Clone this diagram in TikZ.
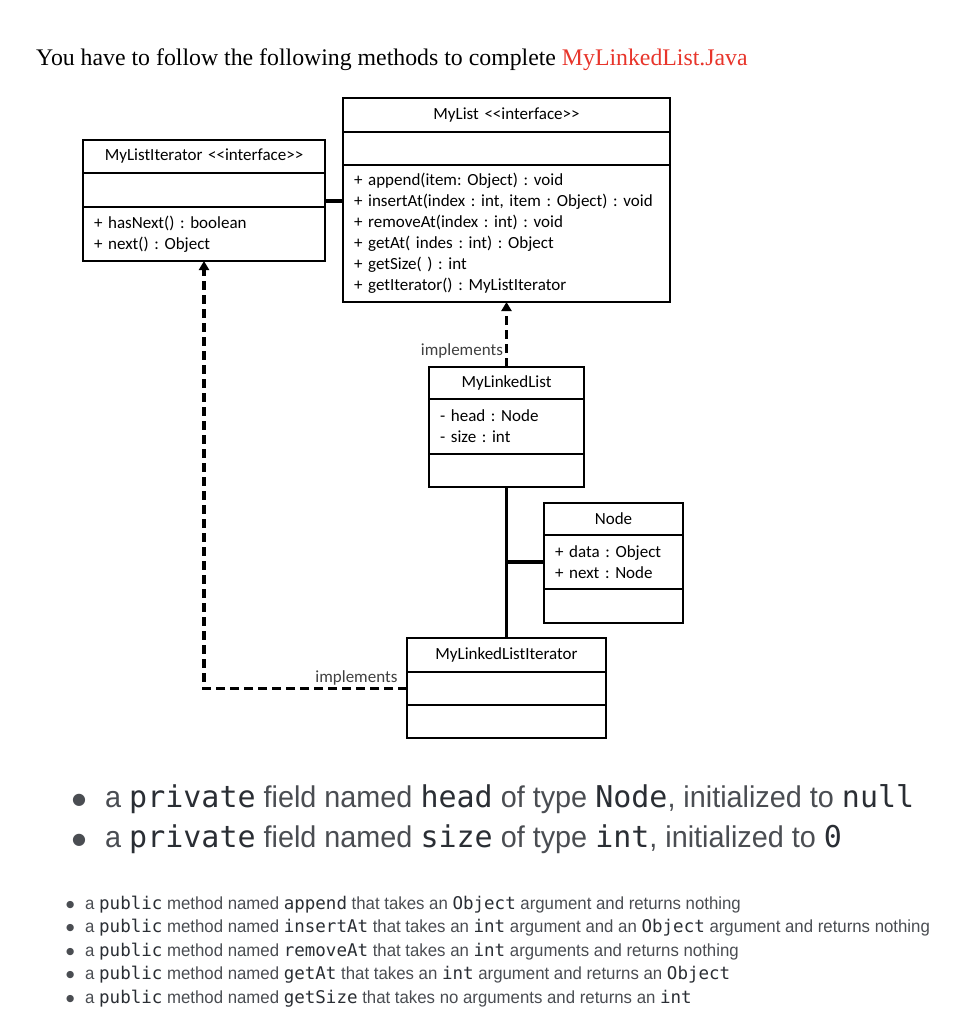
\documentclass[tikz,border=0pt]{standalone}
\usepackage{fontspec}
\usepackage{xcolor}
\usetikzlibrary{arrows.meta,positioning,calc}
\newfontfamily\fontetitulo{Liberation Serif}
\newfontfamily\fonteuml{Carlito}
\newfontfamily\fontetexto[FakeStretch=0.96]{Liberation Sans}
\newfontfamily\fontecodigo{DejaVu Sans Mono}
\newfontfamily\fontesimbolo{DejaVu Sans}
\definecolor{vermelho}{HTML}{E8352B}
\definecolor{cinzatexto}{HTML}{4A4D52}
\definecolor{cinzacodigo}{HTML}{2A2E34}
\newcommand{\cod}[1]{{\fontecodigo\color{cinzacodigo}#1}}
\newcommand{\estereo}[1]{<\kern0pt<#1>\kern0pt>}
\frenchspacing
\tikzset{
    compart/.style={
        draw,
        line width=1.1pt,
        outer sep=0pt,
        inner xsep=11pt,
        inner ysep=0pt,
        font=\fonteuml\fontsize{17}{21}\selectfont
    },
    titulo/.style={compart, align=center},
    lista/.style={compart, align=left},
    realiza/.style={-{Triangle[length=9pt,width=10pt]}, line width=3.2pt, dash pattern=on 9pt off 5pt},
    associa/.style={line width=3.4pt},
    rotulo/.style={font=\fonteuml\fontsize{17}{21}\selectfont, text=black!75, inner sep=2pt},
    topicoA/.style={anchor=base west, inner sep=0pt, text height=22pt, text depth=5pt, text=cinzatexto, font=\fontetexto\fontsize{30}{36}\selectfont},
    topicoB/.style={anchor=base west, inner sep=0pt, text=cinzatexto, font=\fontetexto\fontsize{17.5}{21}\selectfont}
}
\newcommand{\marcaA}{\makebox[35pt][l]{\hspace{2pt}\raisebox{3pt}{\fontesimbolo\fontsize{16}{16}\selectfont ●}}}
\newcommand{\marcaB}{\makebox[20pt][l]{\hspace{1pt}\raisebox{1.5pt}{\fontesimbolo\fontsize{9.5}{10}\selectfont ●}}}

\begin{document}
\begin{tikzpicture}[x=1pt, y=-1pt, node distance=0pt]
    \useasboundingbox[fill=white] (0,0) rectangle (955,1024);

    \node[anchor=base west, inner sep=0pt, font=\fontetitulo\fontsize{23.8}{28}\selectfont] (enunciado) at (36,66)
        {You have to follow the following methods to complete \textcolor{vermelho}{MyLinkedList.Java}};

    % interface MyListIterator
    \node[titulo, text width=220pt, minimum height=33pt, anchor=north west] (itTit) at (83,140)
        {MyListIterator \estereo{interface}};
    \node[lista, text width=220pt, minimum height=34pt, below=of itTit] (itAttr) {};
    \node[lista, text width=220pt, minimum height=54pt, below=of itAttr] (itMet)
        {+ hasNext() : boolean\\+ next() : Object};

    % interface MyList
    \node[titulo, text width=305pt, minimum height=34pt, anchor=north west] (lsTit) at (343,98)
        {MyList \estereo{interface}};
    \node[lista, text width=305pt, minimum height=33pt, below=of lsTit] (lsAttr) {};
    \node[lista, text width=305pt, minimum height=137pt, below=of lsAttr] (lsMet)
        {+ append(item: Object) : void\\
         + insertAt(index : int, item : Object) : void\\
         + removeAt(index : int) : void\\
         + getAt( indes : int) : Object\\
         + getSize( ) : int\\
         + getIterator() : MyListIterator};

    % MyLinkedList
    \node[titulo, text width=133pt, minimum height=32pt, anchor=north west] (llTit) at (429,367)
        {MyLinkedList};
    \node[lista, text width=133pt, minimum height=55pt, below=of llTit] (llAttr)
        {- head : Node\\- size : int};
    \node[lista, text width=133pt, minimum height=33pt, below=of llAttr] (llMet) {};

    % Node
    \node[titulo, text width=117pt, minimum height=32pt, anchor=north west] (ndTit) at (544,503)
        {Node};
    \node[lista, text width=117pt, minimum height=54pt, below=of ndTit] (ndAttr)
        {+ data : Object\\+ next : Node};
    \node[lista, text width=117pt, minimum height=34pt, below=of ndAttr] (ndMet) {};

    % MyLinkedListIterator
    \node[titulo, text width=177pt, minimum height=34pt, anchor=north west] (lliTit) at (407,638)
        {MyLinkedListIterator};
    \node[lista, text width=177pt, minimum height=33pt, below=of lliTit] (lliAttr) {};
    \node[lista, text width=177pt, minimum height=33pt, below=of lliAttr] (lliMet) {};

    % ligacoes
    \coordinate (ligA) at ([yshift=-11pt]itAttr.east);
    \draw[associa] (ligA) -- (ligA -| lsMet.west);
    \draw[realiza] (llTit.north) -- node[rotulo, pos=0.25, left] (impA) {implements} (lsMet.south);
    \draw[associa] (llMet.south) -- (lliTit.north);
    \draw[associa] (llMet.south |- ndAttr.west) -- (ndAttr.west);
    \draw[realiza] (lliAttr.west) -| node[rotulo, pos=0, above left, xshift=-6pt] (impB) {implements} (itMet.south);

    % campos e metodos pedidos
    \node[topicoA] (campo1) at (70,807)
        {\marcaA a \cod{private} field named \cod{head} of type \cod{Node}, initialized to \cod{null}};
    \node[topicoA] (campo2) at (70,847)
        {\marcaA a \cod{private} field named \cod{size} of type \cod{int}, initialized to \cod{0}};

    \node[topicoB] (metodo1) at (65,909)
        {\marcaB a \cod{public} method named \cod{append} that takes an \cod{Object} argument and returns nothing};
    \node[topicoB] (metodo2) at (65,932)
        {\marcaB a \cod{public} method named \cod{insertAt} that takes an \cod{int} argument and an \cod{Object} argument and returns nothing};
    \node[topicoB] (metodo3) at (65,956)
        {\marcaB a \cod{public} method named \cod{removeAt} that takes an \cod{int} arguments and returns nothing};
    \node[topicoB] (metodo4) at (65,979)
        {\marcaB a \cod{public} method named \cod{getAt} that takes an \cod{int} argument and returns an \cod{Object}};
    \node[topicoB] (metodo5) at (65,1003)
        {\marcaB a \cod{public} method named \cod{getSize} that takes no arguments and returns an \cod{int}};
\end{tikzpicture}
\end{document}
